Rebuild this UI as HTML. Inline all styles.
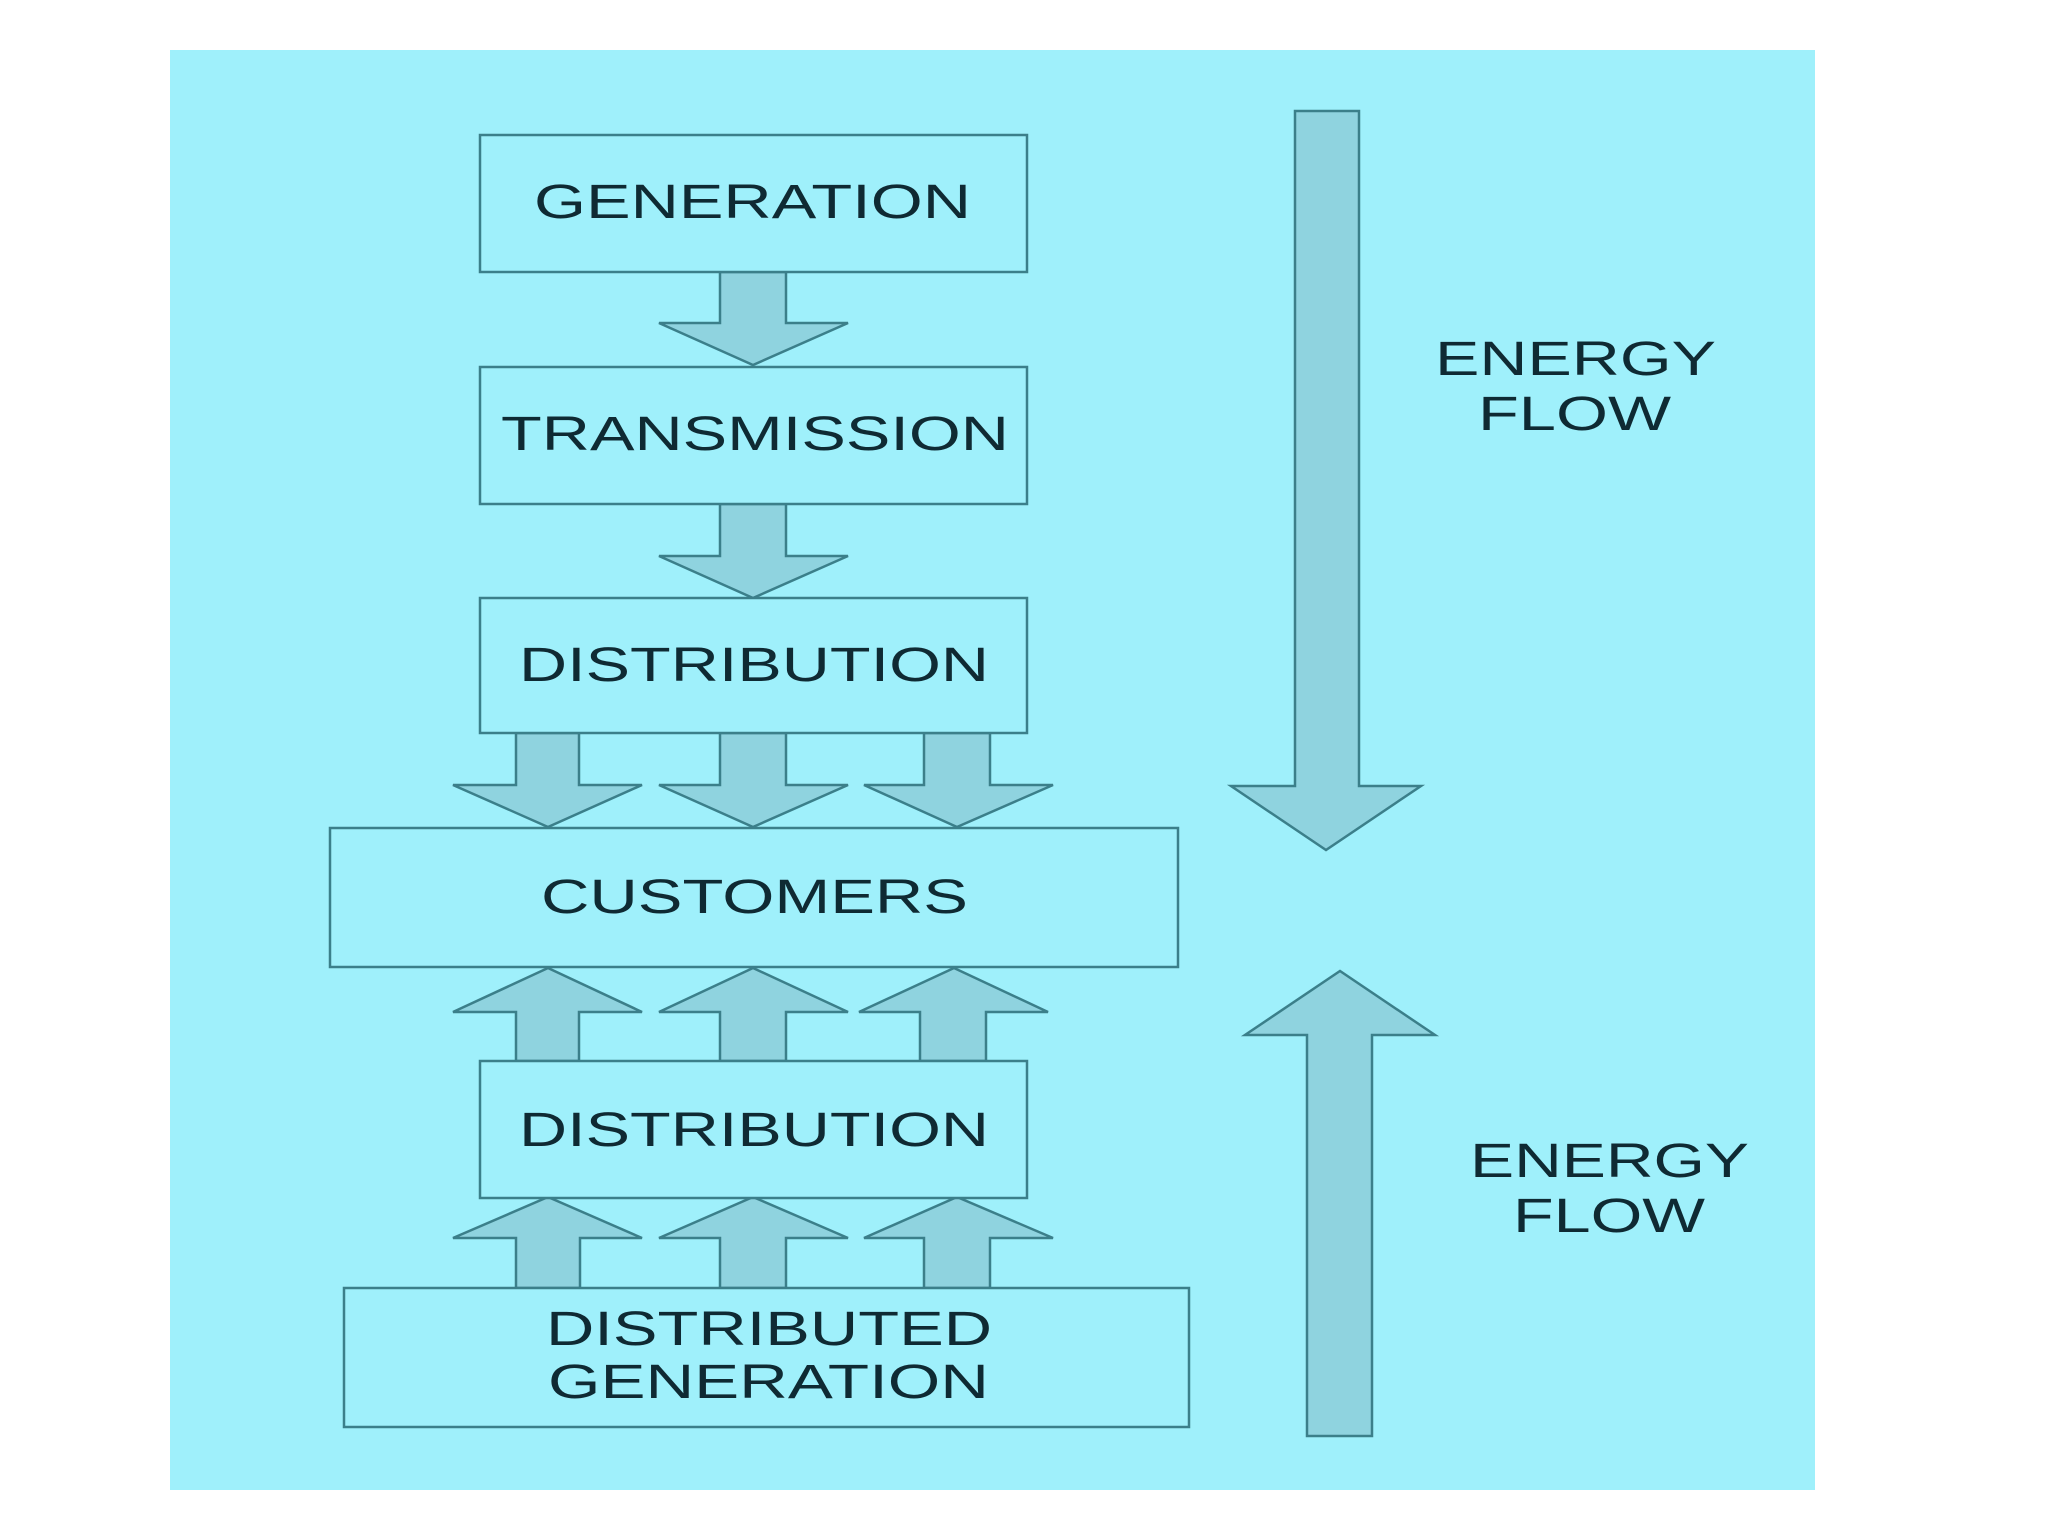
<!DOCTYPE html>
<html><head><meta charset="utf-8"><style>
html,body{margin:0;padding:0;background:#fff;}
svg{display:block;}
text{font-family:"Liberation Sans",Arial,sans-serif;fill:#0f2a33;}
</style></head><body>
<svg width="2048" height="1536" viewBox="0 0 2048 1536" xmlns="http://www.w3.org/2000/svg">
<rect x="0" y="0" width="2048" height="1536" fill="#ffffff"/>
<rect x="170" y="50" width="1645" height="1440" fill="#9ff0fb"/>
<g fill="#8fd3df" stroke="#3b7f8a" stroke-width="2.5" stroke-linejoin="miter">
<!-- down arrows -->
<polygon points="720,272 786,272 786,323 848,323 753,365 659,323 720,323"/>
<polygon points="720,504 786,504 786,556 848,556 753,598 659,556 720,556"/>
<polygon points="516,733 579,733 579,785 642,785 548,827 453,785 516,785"/>
<polygon points="720,733 786,733 786,785 848,785 753,827 659,785 720,785"/>
<polygon points="924,733 990,733 990,785 1053,785 957,827 864,785 924,785"/>
<!-- up arrows to customers -->
<polygon points="516,1061 579,1061 579,1012 642,1012 548,968 453,1012 516,1012"/>
<polygon points="720,1061 786,1061 786,1012 848,1012 753,968 659,1012 720,1012"/>
<polygon points="920,1061 986,1061 986,1012 1048,1012 954,968 859,1012 920,1012"/>
<!-- up arrows to distribution -->
<polygon points="516,1288 580,1288 580,1238 642,1238 548,1197 453,1238 516,1238"/>
<polygon points="720,1288 786,1288 786,1238 848,1238 753,1197 659,1238 720,1238"/>
<polygon points="924,1288 990,1288 990,1238 1053,1238 957,1197 864,1238 924,1238"/>
<!-- big arrows -->
<polygon points="1295,111 1359,111 1359,786 1421,786 1326,850 1231,786 1295,786"/>
<polygon points="1307,1436 1372,1436 1372,1035 1435,1035 1340,971 1245,1035 1307,1035"/>
</g>
<g fill="#9ff0fb" stroke="#3b7f8a" stroke-width="2.5">
<rect x="480" y="135" width="547" height="137"/>
<rect x="480" y="367" width="547" height="137"/>
<rect x="480" y="598" width="547" height="135"/>
<rect x="330" y="828" width="848" height="139"/>
<rect x="480" y="1061" width="547" height="137"/>
<rect x="344" y="1288" width="845" height="139"/>
</g>
<g font-size="48">
<text x="534" y="218" textLength="437" lengthAdjust="spacingAndGlyphs">GENERATION</text>
<text x="501" y="450" textLength="508" lengthAdjust="spacingAndGlyphs">TRANSMISSION</text>
<text x="519" y="681" textLength="470" lengthAdjust="spacingAndGlyphs">DISTRIBUTION</text>
<text x="541" y="913" textLength="427" lengthAdjust="spacingAndGlyphs">CUSTOMERS</text>
<text x="519" y="1146" textLength="470" lengthAdjust="spacingAndGlyphs">DISTRIBUTION</text>
<text x="546" y="1345" textLength="446" lengthAdjust="spacingAndGlyphs">DISTRIBUTED</text>
<text x="548" y="1398" textLength="441" lengthAdjust="spacingAndGlyphs">GENERATION</text>
<text x="1435" y="375" textLength="281" lengthAdjust="spacingAndGlyphs">ENERGY</text>
<text x="1478" y="430" textLength="193" lengthAdjust="spacingAndGlyphs">FLOW</text>
<text x="1470" y="1177" textLength="279" lengthAdjust="spacingAndGlyphs">ENERGY</text>
<text x="1513" y="1232" textLength="192" lengthAdjust="spacingAndGlyphs">FLOW</text>
</g>
</svg>
</body></html>
